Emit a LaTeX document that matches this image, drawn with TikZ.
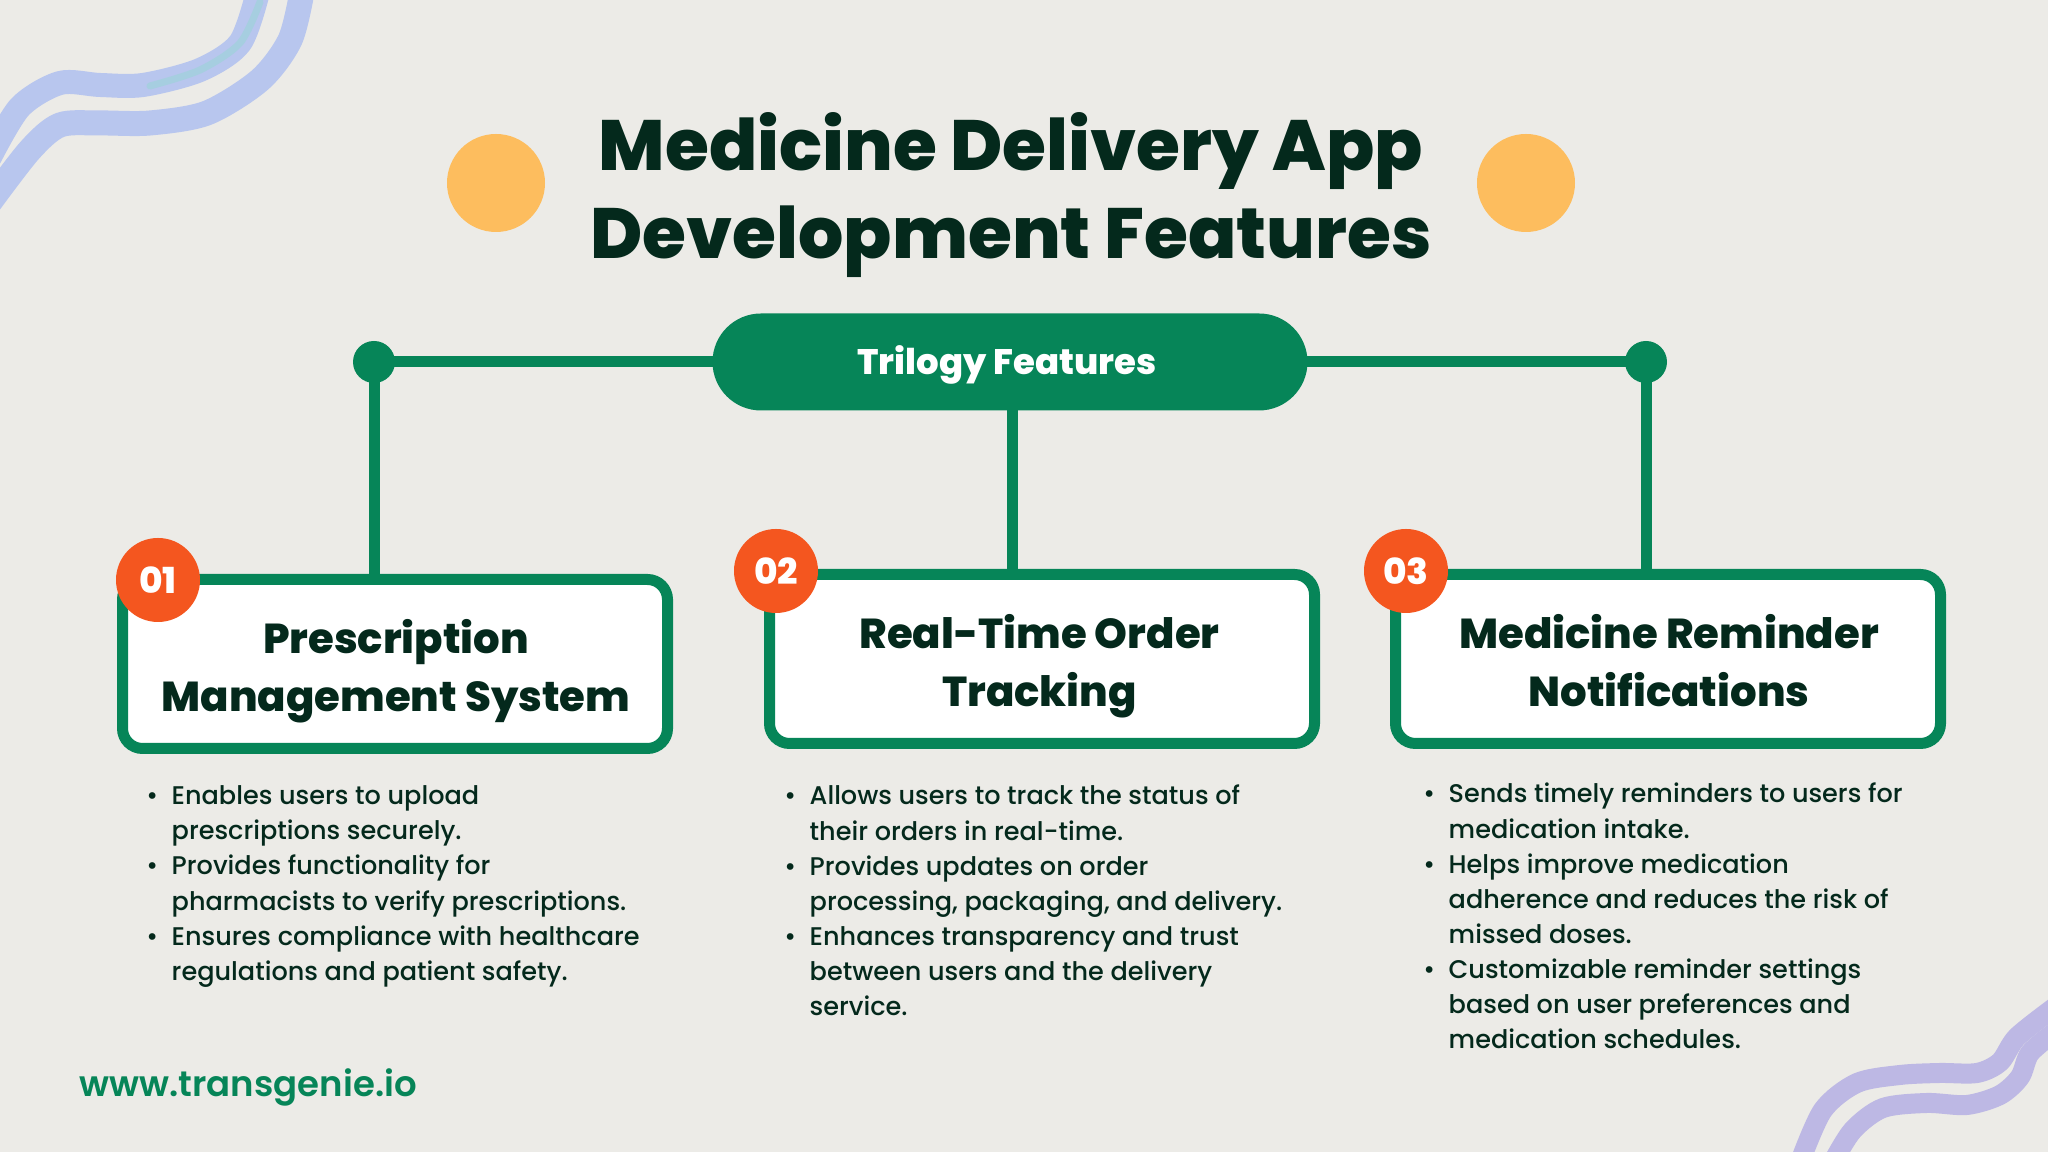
\documentclass[tikz,border=0pt]{standalone}
\usepackage{fontspec}
\setmainfont{Poppins}
\newfontfamily\bodyfont{Poppins Medium}
\newfontfamily\headfont{Poppins ExtraBold}
\newfontfamily\linkfont{Poppins SemiBold}
\definecolor{paper}{HTML}{ECEBE7}
\definecolor{leaf}{HTML}{068558}
\definecolor{ink}{HTML}{04291C}
\definecolor{tomato}{HTML}{F4561F}
\definecolor{sun}{HTML}{FDBD5E}
\definecolor{wavea}{HTML}{B8C6EE}
\definecolor{waveb}{HTML}{A6CEE0}
\definecolor{wavec}{HTML}{BDB8E4}
\newcommand{\bul}{\llap{•\hspace{0.135cm}}}
\tikzset{
    featurebox/.style={draw=leaf,line width=0.11cm,fill=white,rounded corners=0.2cm,minimum width=5.45cm,minimum height=1.69cm},
    heading/.style={yshift=-0.07cm,align=center,text=ink,font=\headfont\fontsize{11.9}{16.5}\selectfont},
    badge/.style={circle,fill=tomato,minimum size=0.84cm,inner sep=0pt,text=white,font=\headfont\fontsize{10.2}{10}\selectfont},
    hub/.style={circle,fill=leaf,minimum size=0.42cm,inner sep=0pt},
    sunny/.style={circle,fill=sun,minimum size=0.98cm,inner sep=0pt},
    link/.style={leaf,line width=0.11cm},
    points/.style={anchor=north west,inner sep=0pt,align=left,text=ink,font=\bodyfont\fontsize{7.27}{10}\selectfont},
    brush/.style={line width=#1,line cap=round,line join=round}
}
\begin{document}
\begin{tikzpicture}
    \fill[paper] (0,0) rectangle (20.48,11.52);
    \clip (0,0) rectangle (20.48,11.52);
    % corner strokes
    \draw[brush=0.24cm,wavea] plot[smooth] coordinates {(-0.1,9.95) (0.2,10.45) (0.6,10.69) (1.0,10.67) (1.43,10.67) (2.0,10.82) (2.4,11.09) (2.58,11.6)};
    \draw[brush=0.07cm,waveb] plot[smooth] coordinates {(1.5,10.66) (2.0,10.82) (2.4,11.09) (2.6,11.5)};
    \draw[brush=0.25cm,wavea] plot[smooth] coordinates {(-0.1,9.5) (0.3,10.02) (0.6,10.27) (1.0,10.29) (1.5,10.29) (2.07,10.39) (2.6,10.72) (2.9,11.12) (3.02,11.6)};
    \draw[brush=0.2cm,wavec] plot[smooth] coordinates {(18.0,-0.1) (18.23,0.42) (18.57,0.69) (19.0,0.77) (19.4,0.79) (19.77,0.79) (20.0,0.9) (20.17,1.15) (20.55,1.45)};
    \draw[brush=0.2cm,wavec] plot[smooth] coordinates {(18.33,-0.1) (18.53,0.22) (18.83,0.44) (19.27,0.49) (19.67,0.47) (20.0,0.57) (20.2,0.75) (20.3,0.99) (20.55,1.2)};
    % heading
    \node[sunny] (sunl) at (4.96,9.69) {};
    \node[sunny] (sunr) at (15.26,9.69) {};
    \node[align=center,text=ink,font=\headfont\fontsize{20.25}{24.8}\selectfont] (title) at (10.11,9.57) {Medicine Delivery App\\Development Features};
    % tree
    \node[fill=leaf,rounded corners=0.485cm,minimum width=5.95cm,minimum height=0.97cm] (trilogy) at (10.1,7.9) {};
    \node[hub] (hubl) at (3.74,7.9) {};
    \node[hub] (hubr) at (16.46,7.9) {};
    \node[featurebox] (boxa) at (3.95,4.88) {};
    \node[featurebox] (boxb) at (10.42,4.93) {};
    \node[featurebox] (boxc) at (16.68,4.93) {};
    \node[heading,xshift=0.01cm] (heada) at (boxa) {\strut Prescription\\\strut Management System};
    \node[heading,xshift=-0.025cm] (headb) at (boxb) {\strut Real-Time Order\\\strut Tracking};
    \node[heading,xshift=0.01cm] (headc) at (boxc) {\strut Medicine Reminder\\\strut Notifications};
    \coordinate (trunk) at (10.127,7.9);
    \draw[link] (trilogy.center) -- (hubl.center);
    \draw[link] (trilogy.center) -- (hubr.center);
    \draw[link] (hubl.center) -- (hubl |- boxa.north);
    \draw[link] (hubr.center) -- (hubr |- boxc.north);
    \draw[link] (trunk) -- (trunk |- boxb.north);
    \node[text=white,font=\headfont\fontsize{10.1}{12}\selectfont,text height=0.34cm,text depth=0.08cm] (trilogytext) at (10.07,7.9) {Trilogy Features};
    \node[badge] (numa) at (1.58,5.72) {01};
    \node[badge] (numb) at (7.76,5.81) {02};
    \node[badge] (numc) at (14.06,5.81) {03};
    % lists
    \node[points] (lista) at (1.71,3.67) {\bul Enables users to upload\\prescriptions securely.\\\bul Provides functionality for\\pharmacists to verify prescriptions.\\\bul Ensures compliance with healthcare\\regulations and patient safety.};
    \node[points] (listb) at (8.09,3.675) {\bul Allows users to track the status of\\their orders in real-time.\\\bul Provides updates on order\\processing, packaging, and delivery.\\\bul Enhances transparency and trust\\between users and the delivery\\service.};
    \node[points] (listc) at (14.48,3.695) {\bul Sends timely reminders to users for\\medication intake.\\\bul Helps improve medication\\adherence and reduces the risk of\\missed doses.\\\bul Customizable reminder settings\\based on user preferences and\\medication schedules.};
    \node[anchor=base west,inner sep=0pt,text=leaf,font=\linkfont\fontsize{10.1}{12}\selectfont] (site) at (0.79,0.55) {www.transgenie.io};
\end{tikzpicture}
\end{document}
